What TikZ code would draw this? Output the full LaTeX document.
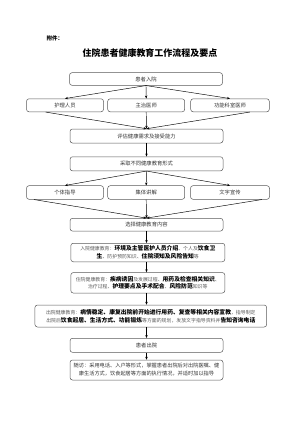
\documentclass[tikz,border=0pt]{standalone}
\usepackage{fontspec}
\usetikzlibrary{arrows.meta,calc}
\newfontfamily\cjk{Noto Sans CJK SC}
\newcommand\kb[1]{{\fontsize{5.8}{7.6}\selectfont\bfseries\color{black}#1}}
\tikzset{
  box/.style={draw=black!65, line width=0.5pt, rounded corners=2.5pt, inner sep=0pt,
    font=\cjk\fontsize{5.3}{7}\selectfont, text=black!80, align=center},
  wide/.style={box, minimum width=153pt},
  side/.style={box, minimum width=77pt, minimum height=13pt},
  info/.style={wide, font=\cjk\fontsize{4.9}{7.6}\selectfont, text=black!65},
  arr/.style={line width=0.45pt, -{Stealth[length=3pt,width=2.4pt]}},
}
\begin{document}
\begin{tikzpicture}[x=1pt,y=-1pt]
\useasboundingbox (0,0) rectangle (300,424);
\node[font=\cjk\bfseries\fontsize{5.5}{6}\selectfont, anchor=west] (fj) at (43,38) {附件：};
\node[font=\cjk\bfseries\fontsize{9}{10}\selectfont] (title) at (150,53) {住院患者健康教育工作流程及要点};

\node[wide, minimum height=12.6pt] (n1) at (146,79) {患者入院};
\node[side] (n2a) at (65,105.3) {护理人员};
\node[side] (n2b) at (146.2,105.3) {主治医师};
\node[side, minimum width=78.6pt] (n2c) at (230,105.3) {功能科室医师};
\node[wide, minimum height=14pt] (n3) at (146.5,136) {评估健康需求及接受能力};
\node[wide, minimum height=14pt] (n4) at (146.5,163.8) {采取不同健康教育形式};
\node[side, minimum height=13.6pt] (n5a) at (65,192.5) {个体指导};
\node[side, minimum height=13.6pt] (n5b) at (146.2,192.5) {集体讲解};
\node[side, minimum height=13.6pt, minimum width=79pt] (n5c) at (230,192.5) {文字宣传};
\node[wide, minimum height=12.7pt] (n6) at (146.5,224.7) {选择健康教育内容};
\node[info, minimum width=154pt, minimum height=18.5pt] (n7) at (147.8,252.5)
  {入院健康教育：\kb{环境及主管医护人员介绍}、个人及\kb{饮食卫}\\
   \kb{生}、防护预防知识、\kb{住院须知及风险告知}等};
\node[info, minimum width=154pt, minimum height=20.5pt] (n8) at (147.8,282.8)
  {住院健康教育：\kb{疾病诱因}及发展过程、\kb{用药及检查相关知识}、\\
   治疗过程、\kb{护理要点及手术配合}、\kb{风险防范}知识等};
\node[info, minimum width=231.7pt, minimum height=22pt] (n9) at (150.8,316)
  {出院健康教育：\kb{病情稳定、康复出院前开始进行用药、复查等相关内容宣教}，指导制定\\
   出院后\kb{饮食起居、生活方式、功能锻炼}等方面的规划，发放文字指导资料并\kb{告知咨询电话}};
\node[wide, minimum height=14pt] (n10) at (146.5,345.3) {患者出院};
\node[info, minimum height=20pt, text=black!80, font=\cjk\fontsize{5.2}{8}\selectfont] (n11) at (146.5,370)
  {随访：采用电话、入户等形式，掌握患者出院后对出院医嘱、健\\
   康生活方式，饮食起居等方面的执行情况，并适时加以指导};

\draw[arr] (n1.south) -- (n2a.north);
\draw[arr] (n1.south) -- (n2b.north);
\draw[arr] (n1.south) -- (n2c.north);
\draw[arr] ($(n2a.south west)!0.25!(n2a.south east)$) -- (n3.north);
\draw[arr] (n2b.south) -- (n3.north);
\draw[arr] ($(n2c.south west)!0.75!(n2c.south east)$) -- (n3.north);
\draw[arr] (n3) -- (n4);
\draw[arr] (n4.south) -- (n5a.north);
\draw[arr] (n4.south) -- (n5b.north);
\draw[arr] (n4.south) -- (n5c.north);
\draw[arr] ($(n5a.south west)!0.1!(n5a.south east)$) -- (n6.north);
\draw[arr] (n5b.south) -- (n6.north);
\draw[arr] ($(n5c.south west)!0.9!(n5c.south east)$) -- (n6.north);
\draw[arr] (n6.south) -- (n6.south |- n7.north);
\draw[arr] (n7.south -| n6.south) -- (n6.south |- n8.north);
\draw[arr] (n8.south -| n6.south) -- (n6.south |- n9.north);
\draw[arr] (n9.south -| n10.south) -- (n10.north);
\draw[arr] (n10) -- (n11);
\end{tikzpicture}
\end{document}
